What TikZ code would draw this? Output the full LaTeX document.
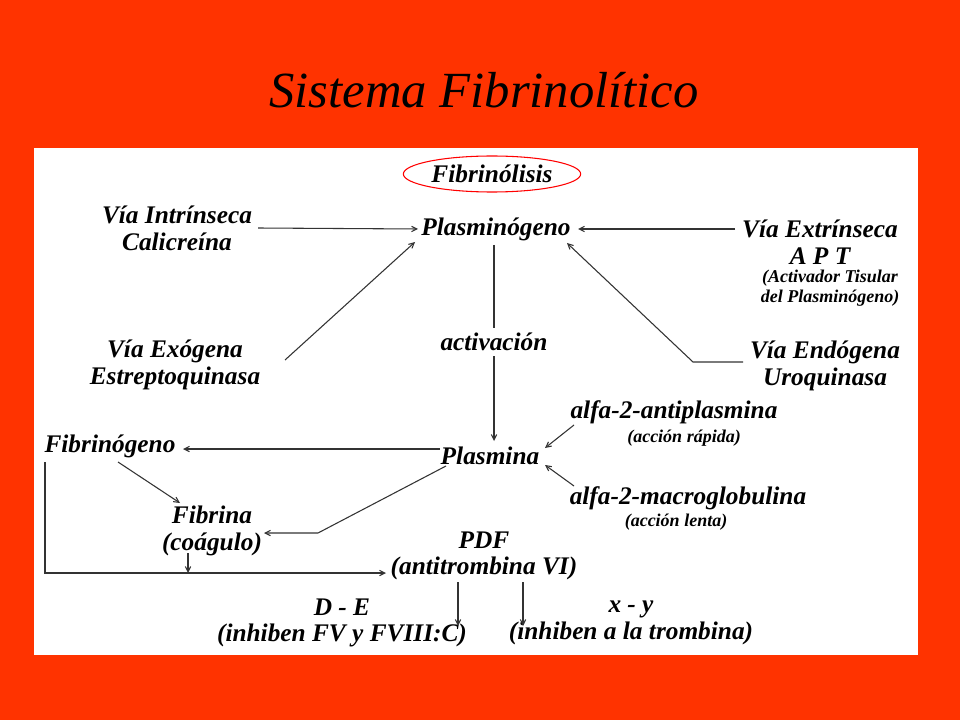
\documentclass[tikz,border=0pt]{standalone}
\usepackage{fontspec}
\setmainfont{Liberation Serif}
\usetikzlibrary{arrows.meta,shapes.geometric}
\definecolor{bg}{HTML}{FF3300}
\begin{document}
\begin{tikzpicture}[x=0.75pt,y=-0.75pt,
  lbl/.style={font=\bfseries\itshape\fontsize{19}{20}\selectfont,inner sep=1pt,align=center},
  sml/.style={font=\bfseries\itshape\fontsize{13.5}{15}\selectfont,inner sep=1pt,align=center},
  arr/.style={draw=black!80,line width=0.8pt,-{Straight Barb[length=4pt,width=4pt]}},
  ln/.style={draw=black!80,line width=0.8pt}]
\fill[bg] (0,0) rectangle (960,720);
\fill[white] (34,148) rectangle (918,655);
\node[font=\itshape\fontsize{38}{40}\selectfont] (title) at (484,90) {Sistema Fibrinolítico};
\node[lbl,draw=red,ellipse,minimum width=133pt,minimum height=27pt,inner sep=0pt,line width=0.8pt] (fl) at (492,174) {Fibrinólisis};
\node[lbl] (pg) at (496,229) {Plasminógeno};
\node[lbl] (vi) at (177,228) {Vía Intrínseca\\Calicreína};
\node[lbl] (ve) at (820,242) {Vía Extrínseca\\A P T};
\node[sml] (apt) at (830,288) {(Activador Tisular\\del Plasminógeno)};
\node[lbl] (vx) at (175,365) {Vía Exógena\\Estreptoquinasa};
\node[lbl] (vn) at (825,366) {Vía Endógena\\Uroquinasa};
\node[lbl] (act) at (494,342) {activación};
\node[lbl] (pl) at (490,456) {Plasmina};
\node[lbl] (a2a) at (674,412) {alfa-2-antiplasmina};
\node[sml] (ar) at (684,438) {(acción rápida)};
\node[lbl] (a2m) at (688,498) {alfa-2-macroglobulina};
\node[sml] (al) at (676,522) {(acción lenta)};
\node[lbl] (fg) at (110,446) {Fibrinógeno};
\node[lbl] (fb) at (212,531) {Fibrina\\(coágulo)};
\node[lbl] (pdf) at (484,556) {PDF\\(antitrombina VI)};
\node[lbl] (de) at (342,623) {D - E\\(inhiben FV y FVIII:C)};
\node[lbl] (xy) at (631,623) {x - y\\(inhiben a la trombina)};
\coordinate (c1) at (285,360);
\coordinate (c2) at (693,362);
\coordinate (c3) at (318,533);
\coordinate (c4) at (45,573);
\coordinate (c5) at (188,573);
\draw[arr] (258,228) -- (418,229);
\draw[arr] (735,229) -- (578,229);
\draw[arr] (c1) -- (415,242);
\draw[arr] (743,362) -- (c2) -- (567,243);
\draw[ln] (494,245) -- (494,328);
\draw[arr] (494,356) -- (494,441);
\draw[arr] (574,425) -- (545,448);
\draw[arr] (574,486) -- (545,465);
\draw[arr] (440,449) -- (183,449);
\draw[arr] (118,462) -- (180,503);
\draw[arr] (446,466) -- (c3) -- (264,533);
\draw[arr] (45,462) -- (c4) -- (386,573);
\draw[arr] (188,553) -- (c5);
\draw[arr] (458,582) -- (458,626);
\draw[arr] (523,582) -- (523,626);
\end{tikzpicture}
\end{document}
